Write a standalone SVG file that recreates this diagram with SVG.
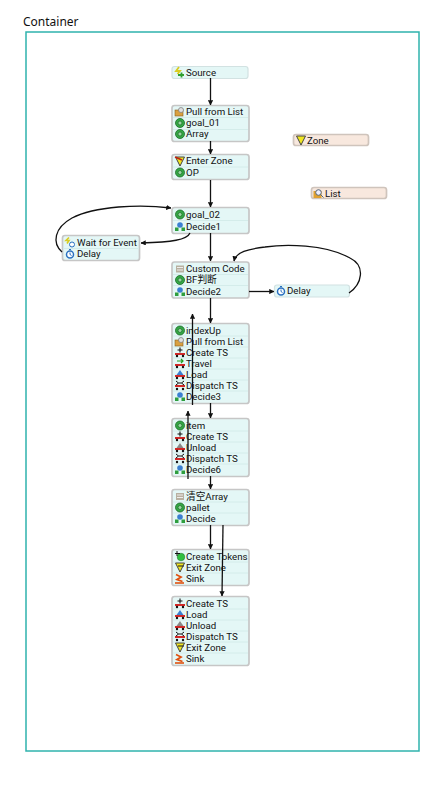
<svg xmlns="http://www.w3.org/2000/svg" width="447" height="785" viewBox="0 0 447 785">
<style>
text{font-family:Roboto,"Noto Sans CJK SC",sans-serif;font-size:9.7px;fill:#111}
.n{fill:#e4f7f6;stroke:#c6c6c6;stroke-width:1.7}
.l{fill:#e4f7f6;stroke:#d2e2e2;stroke-width:1.2}
.o{fill:#f8e8de;stroke:#cfc4bc;stroke-width:1.7}
.r{stroke:#d4ecea;stroke-width:1}
.c{fill:none;stroke:#111;stroke-width:1.3}
</style>
<defs>
<marker id="a" viewBox="0 0 6 6" markerWidth="4" markerHeight="4" refX="5.500" refY="3" orient="auto"><path d="M0 0L6 3L0 6z" fill="#111"/></marker>
<g id="ig"><circle cx="5" cy="5" r="4.500" fill="#35a845" stroke="#1c6a28" stroke-width=".8"/><circle cx="5" cy="5" r="2" fill="#9ad8a4" stroke="#1c6a28" stroke-width=".7"/></g>
<g id="id"><circle cx="5" cy="4" r="2.800" fill="#3a7fd0"/><rect x="0" y="6.500" width="3.500" height="3.500" fill="#2e9e3e"/><rect x="6.500" y="6.500" width="3.500" height="3.500" fill="#2e9e3e"/></g>
<g id="ipl"><rect x="0" y="4" width="8" height="6" fill="#d9a040" stroke="#8a6020" stroke-width=".6"/><circle cx="6" cy="4" r="2.500" fill="#e0e0e0" stroke="#777" stroke-width=".7"/></g>
<g id="iz"><path d="M0.500 1H9.500L5 10z" fill="#f0e620" stroke="#444" stroke-width="1"/></g>
<g id="ien"><path d="M0.500 1H9.500L5 10z" fill="#f0e620" stroke="#444" stroke-width="1"/><path d="M0 1L7 4" stroke="#c02010" stroke-width="1.500"/></g>
<g id="iex"><path d="M0.500 1H9.500L5 10z" fill="#f0e620" stroke="#444" stroke-width="1"/><path d="M3 4H9" stroke="#333" stroke-width="1.200"/></g>
<g id="is"><path d="M0 9.500H9" stroke="#e05010" stroke-width="1.600"/><path d="M1 1L6 3.500L2 6L7.500 8" stroke="#e05010" stroke-width="1.800" fill="none"/></g>
<g id="it"><path d="M0 7H10" stroke="#d01010" stroke-width="1.800"/><path d="M5 0.500V5.500M2.500 3H7.500" stroke="#111" stroke-width="1.100"/><circle cx="2" cy="9" r="1.200" fill="#111"/><circle cx="8" cy="9" r="1.200" fill="#111"/></g>
<g id="itr"><path d="M0 7H10" stroke="#d01010" stroke-width="1.800"/><path d="M2 3H8M6 1L8 3L6 5" stroke="#20a020" stroke-width="1.200" fill="none"/><circle cx="2" cy="9" r="1.200" fill="#111"/><circle cx="8" cy="9" r="1.200" fill="#111"/></g>
<g id="il"><path d="M0 7H10" stroke="#d01010" stroke-width="1.800"/><path d="M5 1L8.500 6H1.500z" fill="#3a7fd0"/><circle cx="2" cy="9" r="1.200" fill="#111"/><circle cx="8" cy="9" r="1.200" fill="#111"/></g>
<g id="iu"><path d="M0 7H10" stroke="#d01010" stroke-width="1.800"/><path d="M5 1L8.500 6H1.500z" fill="#888"/><circle cx="2" cy="9" r="1.200" fill="#111"/><circle cx="8" cy="9" r="1.200" fill="#111"/></g>
<g id="idt"><path d="M0 6H10" stroke="#d01010" stroke-width="1.800"/><path d="M1 1L3.500 3L1 5M9 1L6.500 3L9 5M3.500 3H6.500" stroke="#111" fill="none"/><circle cx="2" cy="9" r="1.200" fill="#111"/><circle cx="8" cy="9" r="1.200" fill="#111"/></g>
<g id="ict"><circle cx="6" cy="6" r="3.800" fill="#30c040" stroke="#187020" stroke-width=".5"/><path d="M2 0V5M0 2.500H5" stroke="#111"/></g>
<g id="icc"><path d="M1 2H9V9H1z" fill="#b8b0a0"/><path d="M2 4H8M2 6.500H8" stroke="#eee"/></g>
<g id="ide"><circle cx="5" cy="6" r="3.500" fill="#fff" stroke="#2a70c0" stroke-width="1.500"/><path d="M5 4V6L6.500 7M4 1H6" stroke="#2a70c0" fill="none"/></g>
<g id="ise"><path d="M4 0L1 4H5L2.500 7" stroke="#d8cc20" stroke-width="1.800" fill="none"/><path d="M3 8H9M6.500 5.500V10.500" stroke="#30a030" stroke-width="1.800"/></g>
<g id="iw"><path d="M4 0L1 3H4L2 6" stroke="#d8cc20" stroke-width="1.600" fill="none"/><circle cx="7" cy="7" r="2.500" fill="#fff" stroke="#2a70c0"/></g>
<g id="ili"><rect x="0" y="3" width="8" height="7" fill="#e0a030"/><circle cx="5" cy="4.500" r="2.800" fill="#eef" stroke="#567"/><path d="M7 6.500L10 9.500" stroke="#567"/></g>
</defs>
<text x="23" y="26" style="font-size:12px;font-family:'Noto Sans',sans-serif">Container</text>
<rect x="26" y="32" width="393" height="719" fill="none" stroke="#2fb3ad" stroke-width="1.500"/>
<g id="nodes">
<g id="source"><rect class="l" x="172" y="66.500" width="76" height="12" rx="2.500"/><use href="#ise" x="175" y="67"/><text x="186" y="75.500">Source</text></g>
<g id="pull"><rect class="n" x="172" y="105.500" width="77" height="36" rx="2.500"/><path class="r" d="M173 117.500H248M173 129.500H248"/><use href="#ipl" x="175" y="106"/><text x="186" y="115">Pull from List</text><use href="#ig" x="175" y="118"/><text x="186" y="126">goal_01</text><use href="#ig" x="175" y="129"/><text x="186" y="137">Array</text></g>
<g id="enter"><rect class="n" x="172" y="154.500" width="77" height="25" rx="2.500"/><path class="r" d="M173 167H248"/><use href="#ien" x="175" y="156"/><text x="186" y="164">Enter Zone</text><use href="#ig" x="175" y="167.500"/><text x="186" y="175.500">OP</text></g>
<g id="goal2"><rect class="n" x="172" y="207.500" width="77" height="26" rx="2.500"/><path class="r" d="M173 220.500H248"/><use href="#ig" x="175" y="209.500"/><text x="186" y="218">goal_02</text><use href="#id" x="175" y="221"/><text x="186" y="229.500">Decide1</text></g>
<g id="wait"><rect class="n" x="62.500" y="235.500" width="77" height="25" rx="2.500"/><path class="r" d="M63 248.500H139"/><use href="#iw" x="65" y="237.500"/><text x="77" y="246">Wait for Event</text><use href="#ide" x="65" y="248.500"/><text x="77" y="257">Delay</text></g>
<g id="custom"><rect class="n" x="172" y="262" width="77" height="36" rx="2.500"/><path class="r" d="M173 274.500H248M173 285.500H248"/><use href="#icc" x="175" y="263.500"/><text x="186" y="272">Custom Code</text><use href="#ig" x="175" y="275"/><text x="186" y="283">BF判断</text><use href="#id" x="175" y="286"/><text x="186" y="294.500">Decide2</text></g>
<g id="delay"><rect class="l" x="274.500" y="285" width="75" height="12" rx="2.500"/><use href="#ide" x="276" y="285.500"/><text x="287" y="294">Delay</text></g>
<g id="index"><rect class="n" x="172" y="323.500" width="77" height="80" rx="2.500"/><path class="r" d="M173 336H248M173 347H248M173 358H248M173 369H248M173 380H248M173 391H248"/><use href="#ig" x="175" y="325.500"/><text x="186" y="333.500">indexUp</text><use href="#ipl" x="175" y="336"/><text x="186" y="344.500">Pull from List</text><use href="#it" x="175" y="347"/><text x="186" y="355.500">Create TS</text><use href="#itr" x="175" y="358"/><text x="186" y="366.500">Travel</text><use href="#il" x="175" y="369"/><text x="186" y="377.500">Load</text><use href="#idt" x="175" y="380"/><text x="186" y="388.500">Dispatch TS</text><use href="#id" x="175" y="391"/><text x="186" y="399.500">Decide3</text></g>
<g id="item"><rect class="n" x="172" y="418.500" width="77" height="58" rx="2.500"/><path class="r" d="M173 431H248M173 442H248M173 453H248M173 464H248"/><use href="#ig" x="175" y="420.500"/><text x="186" y="428.500">item</text><use href="#it" x="175" y="431"/><text x="186" y="439.500">Create TS</text><use href="#iu" x="175" y="442"/><text x="186" y="450.500">Unload</text><use href="#idt" x="175" y="453"/><text x="186" y="461.500">Dispatch TS</text><use href="#id" x="175" y="464"/><text x="186" y="472.500">Decide6</text></g>
<g id="clear"><rect class="n" x="172" y="489.500" width="77" height="36" rx="2.500"/><path class="r" d="M173 502H248M173 513H248"/><use href="#icc" x="175" y="491"/><text x="186" y="499.500">清空Array</text><use href="#ig" x="175" y="502.500"/><text x="186" y="510.500">pallet</text><use href="#id" x="175" y="513"/><text x="186" y="521.500">Decide</text></g>
<g id="tokens"><rect class="n" x="172" y="549.500" width="77" height="36" rx="2.500"/><path class="r" d="M173 562H248M173 573H248"/><use href="#ict" x="175" y="551"/><text x="186" y="560">Create Tokens</text><use href="#iex" x="175" y="562"/><text x="186" y="571">Exit Zone</text><use href="#is" x="175" y="573.500"/><text x="186" y="582">Sink</text></g>
<g id="ts"><rect class="n" x="172" y="596.500" width="77" height="69" rx="2.500"/><path class="r" d="M173 609H248M173 620H248M173 631H248M173 642H248M173 653H248"/><use href="#it" x="175" y="598"/><text x="186" y="607">Create TS</text><use href="#il" x="175" y="609"/><text x="186" y="618">Load</text><use href="#iu" x="175" y="620"/><text x="186" y="629">Unload</text><use href="#idt" x="175" y="631"/><text x="186" y="640">Dispatch TS</text><use href="#iex" x="175" y="642"/><text x="186" y="651">Exit Zone</text><use href="#is" x="175" y="653.500"/><text x="186" y="662">Sink</text></g>
<g id="zone"><rect class="o" x="293.500" y="134.500" width="75" height="11" rx="2.500"/><use href="#iz" x="296" y="135"/><text x="307" y="143.500">Zone</text></g>
<g id="list"><rect class="o" x="311.500" y="187.500" width="75" height="11" rx="2.500"/><use href="#ili" x="313.500" y="188"/><text x="325" y="196.500">List</text></g>
</g>
<g id="connectors">
<path class="c" marker-end="url(#a)" d="M210.500 78V105"/>
<path class="c" marker-end="url(#a)" d="M210.500 141V154"/>
<path class="c" marker-end="url(#a)" d="M210.500 180V207"/>
<path class="c" marker-end="url(#a)" d="M210.500 233V261"/>
<path class="c" marker-end="url(#a)" d="M190 233C187 240 172 242 141 243"/>
<path class="c" marker-end="url(#a)" d="M62 252C52 243 54 228 72 218C95 206 140 204 171 208"/>
<path class="c" marker-end="url(#a)" d="M249 291.500H274"/>
<path class="c" marker-end="url(#a)" d="M349 293C362 284 366 266 350 258C325 244 285 244 265 247C248 249 236 252 234 261"/>
<path class="c" marker-end="url(#a)" d="M210.500 298V323"/>
<path class="c" marker-end="url(#a)" d="M210.500 403V418"/>
<path class="c" marker-end="url(#a)" d="M210.500 476V489"/>
<path class="c" marker-end="url(#a)" d="M210.500 525V549"/>
<path class="c" marker-end="url(#a)" d="M223 525L222 596"/>
<path class="c" marker-end="url(#a)" d="M192.500 405V314"/>
<path class="c" marker-end="url(#a)" d="M188 479V411"/>
</g>
</svg>
